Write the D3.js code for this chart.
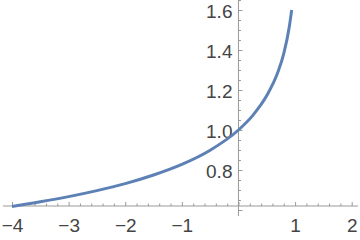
<!DOCTYPE html>
<html>
<head>
<meta charset="utf-8">
<script src="https://cdn.jsdelivr.net/npm/d3@7"></script>
<style>
  body { margin: 0; background: #fff; }
  svg { display: block; }
  .tick text { font-family: "Liberation Sans", Arial, sans-serif; font-size: 19px; fill: #444; }
</style>
</head>
<body>
<div class="canvas"></div>
<script>
// values
const xs = [-4, -3.5, -3, -2.5, -2, -1.5, -1, -0.5, 0, 0.25, 0.5, 0.7, 0.8, 0.9, 0.94];
const ys = [0.618, 0.641, 0.667, 0.697, 0.732, 0.775, 0.828, 0.899, 1.0, 1.072, 1.172, 1.292, 1.382, 1.52, 1.6];

const xTicks = [-4, -3, -2, -1, 0, 1, 2];
const yTicks = [0.6, 0.8, 1.0, 1.2, 1.4, 1.6];
const xLabels = ["−4", "−3", "−2", "−1", "", "1", "2"];
const yLabels = ["", "0.8", "1.0", "1.2", "1.4", "1.6"];

const width = 360, height = 240;

const svg = d3.select(".canvas").append("svg").attr("width", width).attr("height", height);

const x = d3.scaleLinear().domain([-4, 2]).range([12, 351.7]);
const y = d3.scaleLinear().domain([0.6, 1.6]).range([210, 10]);

const xMinor = d3.range(-4, 2.01, 0.2).filter((v) => Math.abs(v - Math.round(v)) > 0.01);
const yMinor = d3.range(0.6, 1.651, 0.05).filter((v) => Math.abs(v * 5 - Math.round(v * 5)) > 0.01);

const axisY0 = y(0.62); // where the x axis sits
const axisX0 = x(0);

// x axis
const gx = svg.append("g").attr("transform", `translate(0,${axisY0})`);
gx.append("line")
  .attr("x1", 3).attr("x2", 358)
  .attr("stroke", "#999").attr("stroke-width", 1);
gx.append("g")
  .call(d3.axisBottom(x).tickValues(xMinor).tickSize(-2.5).tickFormat(""))
  .call((g) => g.select(".domain").remove());
gx.append("g")
  .call(d3.axisBottom(x).tickValues(xTicks).tickSize(-4).tickPadding(13)
    .tickFormat((d, i) => xLabels[i]))
  .call((g) => g.select(".domain").remove());

// y axis
const gy = svg.append("g").attr("transform", `translate(${axisX0},0)`);
gy.append("line")
  .attr("y1", 0).attr("y2", 216)
  .attr("stroke", "#999").attr("stroke-width", 1);
gy.append("g")
  .call(d3.axisLeft(y).tickValues(yMinor).tickSize(-2.5).tickFormat(""))
  .call((g) => g.select(".domain").remove());
gy.append("g")
  .call(d3.axisLeft(y).tickValues(yTicks).tickSize(-4).tickPadding(6)
    .tickFormat((d, i) => yLabels[i]))
  .call((g) => g.select(".domain").remove())
  .selectAll("text").attr("dy", "0.42em");

svg.selectAll(".tick line").attr("stroke", "#999");

// curve
const line = d3.line()
  .x((d) => x(d[0]))
  .y((d) => y(d[1]))
  .curve(d3.curveMonotoneX);

svg.append("path")
  .datum(d3.zip(xs, ys))
  .attr("d", line)
  .attr("fill", "none")
  .attr("stroke", "#5E81B5")
  .attr("stroke-width", 3);
</script>
</body>
</html>
